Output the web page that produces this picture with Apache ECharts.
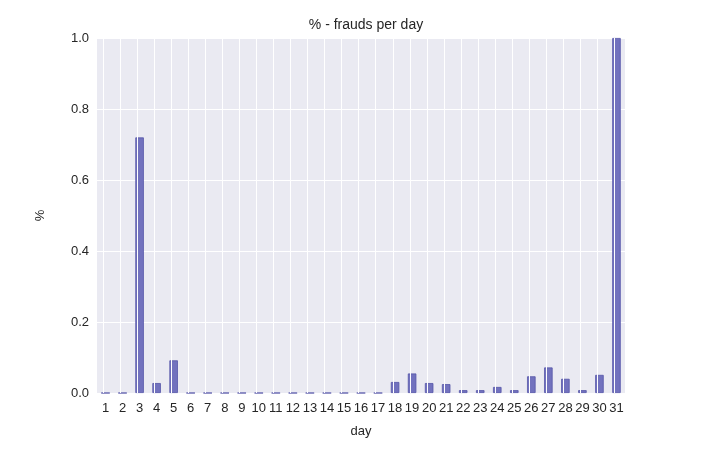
<!DOCTYPE html><html><head><meta charset="utf-8"><script src="https://cdn.jsdelivr.net/npm/echarts@6/dist/echarts.min.js"></script></head><body style="margin:0"><div id="c" style="width:716px;height:455px"></div><script>
const days=[];for(let i=1;i<=31;i++)days.push(String(i));
const values=[0,0,0.72,0.028,0.092,0,0,0,0,0,0,0,0,0,0,0,0,0.031,0.055,0.028,0.025,0.008,0.008,0.017,0.008,0.047,0.072,0.040,0.008,0.051,1.0];
const c=echarts.init(document.getElementById('c'));
const f='"Liberation Sans", Arial, sans-serif';
c.setOption({
title:{text:'% - frauds per day',left:361,top:13,textAlign:'center',textStyle:{fontFamily:f,fontSize:14,fontWeight:'normal',color:'#262626'}},
grid:{left:97,right:91,top:38,bottom:62,show:true,backgroundColor:'#EAEAF2',borderWidth:0},
xAxis:{type:'category',data:days,name:'day',nameLocation:'middle',nameGap:32,nameTextStyle:{fontFamily:f,fontSize:13,color:'#262626'},
axisLine:{show:false},axisTick:{show:false},axisLabel:{interval:0,fontFamily:f,fontSize:13,color:'#262626',margin:9},
splitLine:{show:false}},
yAxis:{type:'value',min:0,max:1,interval:0.2,name:'%',nameLocation:'middle',nameGap:50,nameTextStyle:{fontFamily:f,fontSize:13,color:'#262626'},
axisLine:{show:false},axisTick:{show:false},axisLabel:{fontFamily:f,fontSize:13,color:'#262626',formatter:v=>v.toFixed(1)},
splitLine:{lineStyle:{color:'#fff',width:1}}},
series:[
{type:'bar',data:[],z:1,silent:true,markLine:{silent:true,symbol:'none',label:{show:false},animation:false,lineStyle:{color:'#fff',width:1,type:'solid'},data:days.map(d=>({xAxis:d}))}},
{type:'bar',data:values,z:3,barWidth:'50%',barGap:'-100%',itemStyle:{color:'#7272BE',borderColor:'#5555A8',borderWidth:0.8},animation:false}]
});
</script></body></html>
